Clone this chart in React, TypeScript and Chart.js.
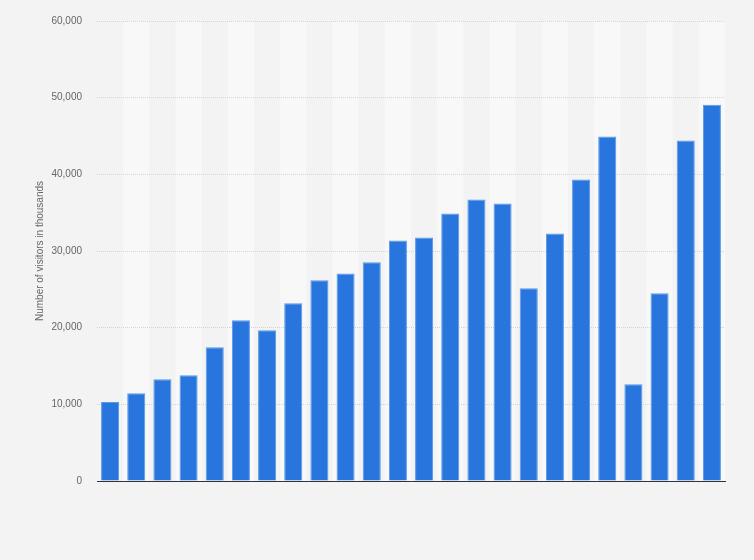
import React, { useEffect, useRef } from "react"
import { Chart, registerables } from "chart.js"

Chart.register(...registerables)

// years on the x axis (labels are hidden in the picture)
const years = [
    "2000", "2001", "2002", "2003", "2004", "2005", "2006", "2007",
    "2008", "2009", "2010", "2011", "2012", "2013", "2014", "2015",
    "2016", "2017", "2018", "2019", "2020", "2021", "2022", "2023",
]

// visitors in thousands
const visitors = [
    10290, 11460, 13280, 13800, 17450, 20960, 19660, 23180,
    26170, 27080, 28520, 31380, 31770, 34900, 36720, 36200,
    25130, 32290, 39320, 44920, 12630, 24480, 44400, 49090,
]

const yTitle = "Number of visitors in thousands"

// light stripes behind every second category, drawn before the grid
const stripes = {
    id: "stripes",
    beforeDraw(chart: Chart) {
        const { ctx, chartArea, scales } = chart
        const x = scales.x
        const n = years.length
        const w = (chartArea.right - chartArea.left) / n
        ctx.save()
        ctx.fillStyle = "#f8f8f8"
        for (let i = 1; i < n; i += 2) {
            const cx = x.getPixelForValue(i)
            ctx.fillRect(cx - w / 2, chartArea.top, w, chartArea.bottom - chartArea.top)
        }
        ctx.restore()
    },
}

const BarChart: React.FC = () => {
    const chartRef = useRef<HTMLCanvasElement>(null)
    const chartInstance = useRef<Chart | null>(null)

    useEffect(() => {
        if (!chartRef.current) return
        if (chartInstance.current) chartInstance.current.destroy()
        const ctx = chartRef.current.getContext("2d")
        if (!ctx) return

        chartInstance.current = new Chart(ctx, {
            type: "bar",
            data: {
                labels: years,
                datasets: [
                    {
                        data: visitors,
                        backgroundColor: "#2876dd",
                        borderColor: "#5a98e8",
                        borderWidth: 1,
                        barPercentage: 0.69,
                        categoryPercentage: 1,
                    },
                ],
            },
            plugins: [stripes],
            options: {
                animation: false,
                responsive: true,
                maintainAspectRatio: false,
                layout: { padding: { top: 20, right: 29, bottom: 79, left: 0 } },
                plugins: {
                    legend: { display: false },
                    tooltip: { enabled: false },
                },
                scales: {
                    x: {
                        ticks: { display: false },
                        grid: { display: false },
                        border: { display: true, color: "#333333", width: 1 },
                        afterFit: (scale: any) => {
                            scale.height = 0
                        },
                    },
                    y: {
                        min: 0,
                        max: 60000,
                        ticks: {
                            stepSize: 10000,
                            padding: 15,
                            color: "#666666",
                            font: { family: "'Liberation Sans', Arial, sans-serif", size: 10 },
                            callback: (v: any) => Number(v).toLocaleString("en-US"),
                        },
                        grid: {
                            color: "#d4d4d4",
                            lineWidth: 1,
                            drawTicks: false,
                        },
                        border: { display: false, dash: [1, 1] },
                        title: {
                            display: true,
                            text: yTitle,
                            color: "#666666",
                            font: { family: "'Liberation Sans', Arial, sans-serif", size: 10 },
                            padding: { top: 34, bottom: 0 },
                        },
                        afterFit: (scale: any) => {
                            scale.width = 97
                        },
                    },
                },
            },
        })

        return () => {
            if (chartInstance.current) {
                chartInstance.current.destroy()
                chartInstance.current = null
            }
        }
    }, [])

    return <canvas ref={chartRef} />
}

export default function App() {
    return (
        <div
            style={{
                position: "absolute",
                left: 0,
                top: 0,
                width: 754,
                height: 560,
                background: "#f3f3f3",
            }}
        >
            <BarChart />
        </div>
    )
}
